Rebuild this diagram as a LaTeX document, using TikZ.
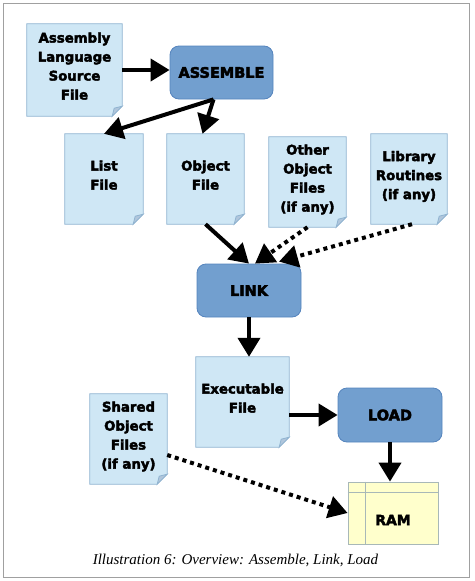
\documentclass[tikz,border=0pt]{standalone}
\usepackage{fontspec}
\setmainfont{DejaVu Sans}
\newfontfamily\heavyfont{DejaVu Sans Bold}[FakeBold=3]
\newfontfamily\capfont{Liberation Serif}
\usetikzlibrary{arrows.meta,calc,backgrounds}
\definecolor{docfill}{HTML}{CFE7F5}
\definecolor{docline}{HTML}{8FB3D0}
\definecolor{foldfill}{HTML}{B0C6DC}
\definecolor{boxfill}{HTML}{729FCF}
\definecolor{boxline}{HTML}{5584BD}
\definecolor{ramfill}{HTML}{FFFFCC}
\definecolor{ramline}{HTML}{A8B8B8}
\definecolor{framecol}{HTML}{A0A0A0}
\tikzset{
  docnode/.style={rectangle, inner sep=0pt, align=center, text depth=8pt,
    font=\heavyfont\fontsize{13.3}{19}\selectfont},
  docpath/.style={fill=docfill, draw=docline, line width=0.8pt},
  foldpath/.style={fill=foldfill, draw=docline, line width=0.8pt},
  procbox/.style={rectangle, rounded corners=9pt, fill=boxfill, draw=boxline,
    line width=0.8pt, inner sep=0pt, align=center,
    font=\heavyfont\fontsize{14.5}{17}\selectfont},
  ramnode/.style={rectangle, fill=ramfill, draw=ramline, line width=0.8pt,
    inner sep=0pt, minimum width=90pt, minimum height=62pt},
  conn/.style={line width=4pt, -{Triangle[length=19pt,width=22pt]}},
  dotconn/.style={line width=4pt, dash pattern=on 4pt off 4pt,
    -{Triangle[length=19pt,width=22pt]}},
}
\newcommand\docshape[1]{%
  \path[docpath] (#1.north west) -- (#1.north east) -- ($(#1.south east)+(0,-10)$)
     -- ($(#1.south east)+(-10,0)$) -- (#1.south west) -- cycle;
  \path[foldpath] ($(#1.south east)+(0,-10)$) -- ($(#1.south east)+(-10,0)$)
     -- ($(#1.south east)+(-8,-8)$) -- cycle;}
\begin{document}
\begin{tikzpicture}[x=1pt,y=-1pt]
\useasboundingbox (0,0) rectangle (474,581);
\draw[framecol, line width=1pt] (3,3) rectangle (469,577);

% documents
\node[docnode, minimum width=95pt, minimum height=92pt] (src) at (74.5,70) {Assembly\\Language\\Source\\File};
\node[docnode, minimum width=78pt, minimum height=90pt] (list) at (104,179) {List\\File};
\node[docnode, minimum width=77pt, minimum height=90pt] (obj) at (205.5,179) {Object\\File};
\node[docnode, minimum width=77pt, minimum height=90pt] (other) at (307.5,182) {Other\\Object\\Files\\(if any)};
\node[docnode, minimum width=76pt, minimum height=90pt] (lib) at (409,179) {Library\\Routines\\(if any)};
\node[docnode, minimum width=93pt, minimum height=90pt] (exe) at (242.5,402) {Executable\\File};
\node[docnode, minimum width=77pt, minimum height=90pt] (shared) at (128.5,439) {Shared\\Object\\Files\\(if any)};

\begin{scope}[on background layer]
  \docshape{src}\docshape{list}\docshape{obj}\docshape{other}
  \docshape{lib}\docshape{exe}\docshape{shared}
\end{scope}

% process boxes
\node[procbox, minimum width=103pt, minimum height=53pt] (assemble) at (221.5,72.5) {ASSEMBLE};
\node[procbox, minimum width=104pt, minimum height=53pt] (link) at (249,290.5) {LINK};
\node[procbox, minimum width=104pt, minimum height=54pt] (load) at (390,415) {LOAD};

% RAM
\node[ramnode] (ram) at (393,513) {};
\draw[ramline, line width=0.8pt] ($(ram.north west)+(0,11)$) -- ($(ram.north east)+(0,11)$);
\draw[ramline, line width=0.8pt] ($(ram.north west)+(18,0)$) -- ($(ram.south west)+(18,0)$);
\node[font=\heavyfont\fontsize{14}{17}\selectfont] (ramtxt) at ($(ram.center)+(0,7)$) {RAM};

% connectors
\draw[conn] (src.east) -- (src.east -| assemble.west);
\draw[conn] ($(assemble.south)+(-8,0)$) -- (list.north);
\draw[conn] ($(assemble.south)+(-8,0)$) -- ($(obj.north)+(-3,0)$);
\draw[conn] (obj.south) -- (link.north);
\draw[dotconn] (other.south) -- ($(link.north)+(6,0)$);
\draw[dotconn] ($(lib.south)+(3,0)$) -- ($(link.north)+(30,-2)$);
\draw[conn] (link.south) -- (link.south |- exe.north);
\draw[conn] (exe.east |- load.west) -- (load.west);
\draw[conn] (load.south) -- (load.south |- ram.north);
\draw[dotconn] ($(shared.east)+(0,16)$) -- (ram.west);

% caption
\node[font=\capfont\itshape\fontsize{15}{17}\selectfont] (cap) at (235.5,560) {Illustration 6: Overview: Assemble, Link, Load};
\end{tikzpicture}
\end{document}
